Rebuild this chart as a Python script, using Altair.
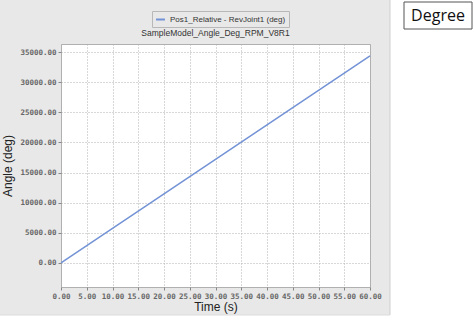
import altair as alt
import pandas as pd

# Data
time_s = [0, 10, 20, 30, 40, 50, 60]
angle_deg = [0, 5730, 11459, 17189, 22918, 28648, 34377]
series_name = "Pos1_Relative - RevJoint1 (deg)"
chart_title = "SampleModel_Angle_Deg_RPM_V8R1"
x_ticks = [0, 5, 10, 15, 20, 25, 30, 35, 40, 45, 50, 55, 60]
y_ticks = [0, 5000, 10000, 15000, 20000, 25000, 30000, 35000]
side_label = "Degree"

df = pd.DataFrame({"time": time_s, "angle": angle_deg, "series": [series_name] * len(time_s)})
one = pd.DataFrame({"k": [0]})

W, H = 309, 243
PL, PT = 61, 44
TOTAL_W, TOTAL_H = 474, 323
PANEL_R, PANEL_B = 390, 315

tick_font = "DejaVu Sans Mono"
title_font = "Liberation Sans"
grid_dash = [1, 2]
grid_color = "#b0b0b0"
label_size = 7.5
label_color = "#666"

line = alt.Chart(df).mark_line(strokeWidth=1.5).encode(
    x=alt.X("time:Q",
            scale=alt.Scale(domain=[0, 60], nice=False, zero=False),
            axis=alt.Axis(values=x_ticks, format=".2f", title="Time (s)",
                          labelFont=tick_font, labelFontSize=label_size, labelColor=label_color,
                          labelFontWeight="bold",
                          labelFlush=False, labelPadding=2,
                          tickSize=3, tickColor="#888", domain=False,
                          grid=True, gridDash=grid_dash, gridColor=grid_color,
                          titleFont=title_font, titleFontSize=12, titleFontWeight="normal",
                          titleColor="#222", titlePadding=2)),
    y=alt.Y("angle:Q",
            scale=alt.Scale(domain=[-4000, 36350], nice=False, zero=False),
            axis=alt.Axis(values=y_ticks, format=".2f", title="Angle (deg)",
                          labelFont=tick_font, labelFontSize=label_size, labelColor=label_color,
                          labelFontWeight="bold",
                          labelPadding=2, tickSize=3, tickColor="#888", domain=False,
                          grid=True, gridDash=grid_dash, gridColor=grid_color,
                          titleFont=title_font, titleFontSize=12, titleFontWeight="normal",
                          titleColor="#222", titlePadding=5)),
    color=alt.Color("series:N",
                    scale=alt.Scale(range=["#7393d6"]),
                    legend=alt.Legend(title=None, orient="none", legendX=91, legendY=-33,
                                      symbolType="stroke", symbolStrokeWidth=2, symbolSize=80,
                                      labelFont=title_font, labelFontSize=8, labelColor="#333",
                                      padding=3, strokeColor="#b8b8b8", fillColor="#e8e8e8",
                                      cornerRadius=0)),
)

subtitle = alt.Chart(one).mark_text(font=title_font, fontSize=8.5, color="#333",
                                    align="center", baseline="middle").encode(
    x=alt.value(W / 2), y=alt.value(33 - PT), text=alt.value(chart_title))

white_right = alt.Chart(one).mark_rect(color="white").encode(
    x=alt.value(PANEL_R - PL), x2=alt.value(TOTAL_W - PL + 5),
    y=alt.value(-PT - 5), y2=alt.value(TOTAL_H - PT + 5))
white_bottom = alt.Chart(one).mark_rect(color="white").encode(
    x=alt.value(-PL - 5), x2=alt.value(TOTAL_W - PL + 5),
    y=alt.value(PANEL_B - PT), y2=alt.value(TOTAL_H - PT + 5))
panel_edge = alt.Chart(one).mark_rule(color="#cfcfcf").encode(
    x=alt.value(PANEL_R - PL), y=alt.value(-PT), y2=alt.value(PANEL_B - PT))
panel_edge_b = alt.Chart(one).mark_rule(color="#dcdcdc").encode(
    x=alt.value(-PL), x2=alt.value(PANEL_R - PL), y=alt.value(PANEL_B - PT))

deg_box = alt.Chart(one).mark_rect(fill="white", stroke="#555", strokeWidth=1).encode(
    x=alt.value(404 - PL), x2=alt.value(472 - PL),
    y=alt.value(2 - PT), y2=alt.value(29 - PT))
deg_text = alt.Chart(one).mark_text(font="Open Sans", fontSize=16, color="#111",
                                    align="center", baseline="middle").encode(
    x=alt.value(438 - PL), y=alt.value(16 - PT), text=alt.value(side_label))

chart = alt.layer(white_right, white_bottom, panel_edge, panel_edge_b, line, subtitle,
                  deg_box, deg_text).properties(
    width=W, height=H,
    background="#e8e8e8",
    padding={"left": PL, "top": PT, "right": TOTAL_W - PL - W, "bottom": TOTAL_H - PT - H},
    autosize=alt.AutoSizeParams(type="none"),
).configure_view(fill="white", stroke="#b0b0b0", strokeWidth=1)

chart.save("out.html", embed_options={"renderer": "svg", "actions": False})
